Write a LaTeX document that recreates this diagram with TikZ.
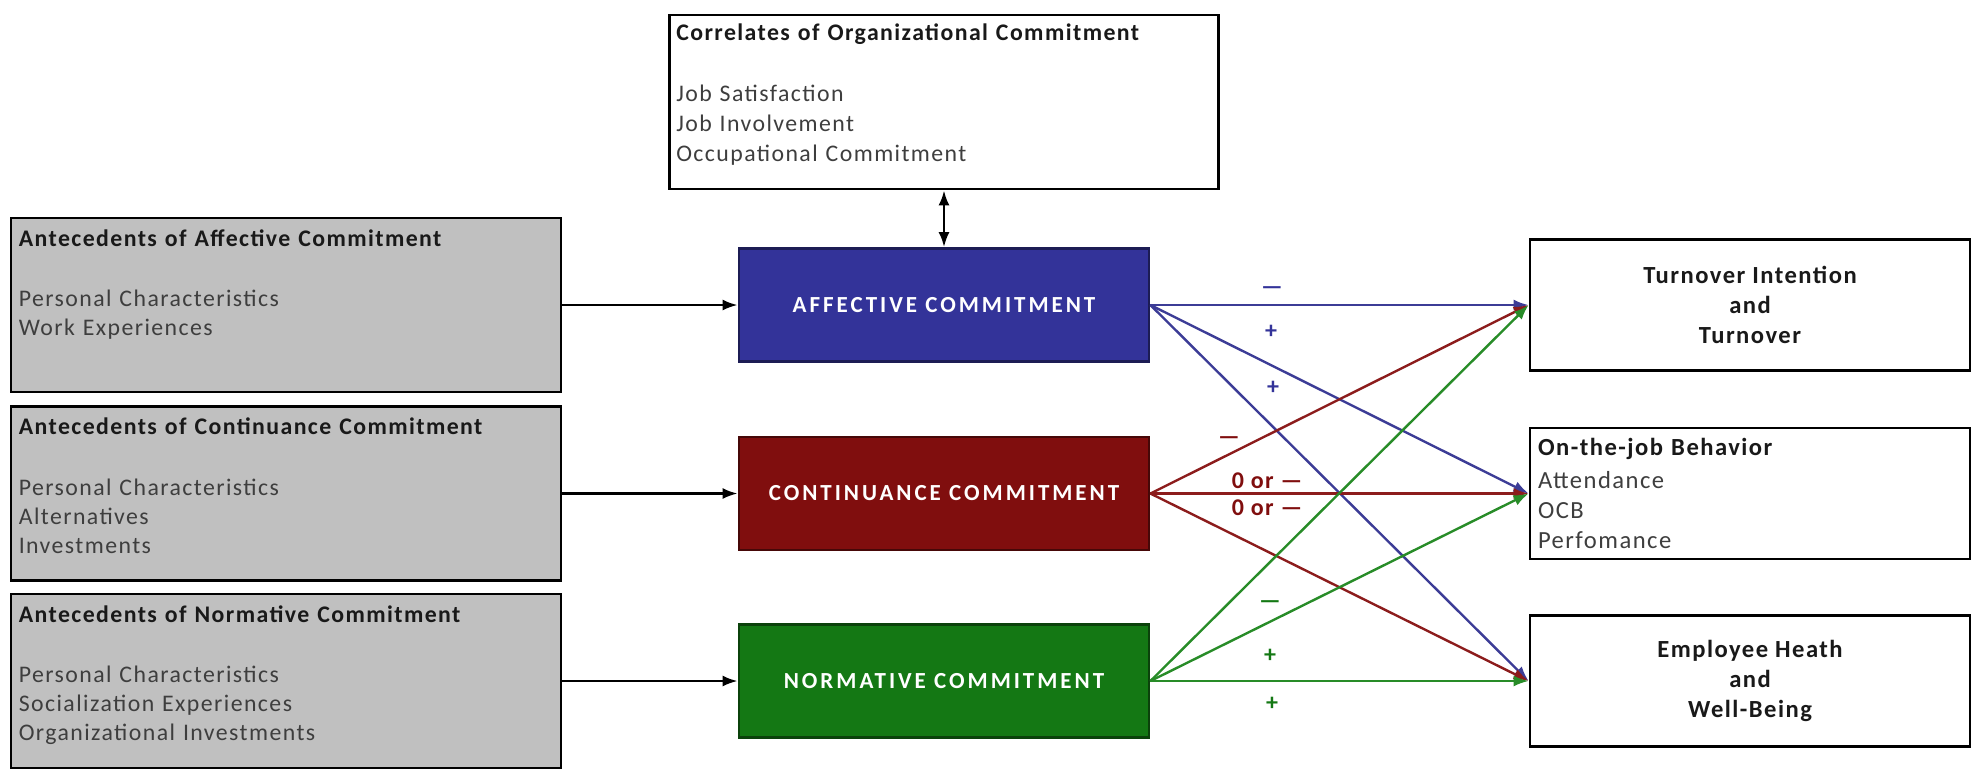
\documentclass[tikz,border=0pt]{standalone}
\usepackage{fontspec}
\setmainfont{Carlito}[LetterSpace=6]
\newfontfamily\capsfont{Carlito}[LetterSpace=13]
\usetikzlibrary{arrows.meta}
\definecolor{affblue}{RGB}{51,51,153}
\definecolor{conred}{RGB}{128,14,14}
\definecolor{normgreen}{RGB}{20,120,20}
\definecolor{affline}{RGB}{60,60,150}
\definecolor{conline}{RGB}{140,28,28}
\definecolor{normline}{RGB}{40,140,40}
\definecolor{antegray}{RGB}{192,192,192}
\definecolor{itemgray}{RGB}{62,62,62}
\definecolor{titlegray}{RGB}{25,25,25}
\newcommand{\boxtitle}[1]{{\bfseries\color{titlegray}#1}}

\begin{document}
\begin{tikzpicture}[x=0.5pt,y=-0.5pt,line width=1.2pt,>={Latex[length=7.5pt,width=5.5pt]},
  antebox/.style={draw,line width=1.4pt,fill=antegray,minimum width=275pt,minimum height=87pt,inner sep=0pt},
  antetext/.style={anchor=base west,inner sep=0pt,text width=262pt,align=left,text=itemgray,font=\fontsize{11.9}{14.4}\selectfont},
  commit/.style={draw=#1!55!black,line width=1.4pt,fill=#1,text=white,minimum width=205pt,minimum height=56.5pt,font=\capsfont\fontsize{11.5}{13}\selectfont\bfseries},
  outbox/.style={draw,line width=1.4pt,fill=white,minimum width=220pt,minimum height=65.5pt,align=center,text=titlegray,font=\fontsize{12.3}{15}\selectfont\bfseries},
  sign/.style={text=#1,inner sep=0pt,text height=1.5ex,text depth=.25ex,font=\fontsize{12}{14}\selectfont\bfseries}]
  \useasboundingbox (0,0) rectangle (1980,773);

  % correlates
  \node[draw,line width=1.4pt,minimum width=274.5pt,minimum height=87pt,inner sep=0pt] (cor) at (944,102) {};
  \node[antetext,font=\fontsize{11.9}{15}\selectfont] (cort) at ([shift={(7,27)}]cor.north west) {\boxtitle{Correlates of Organizational Commitment}\\[15.5pt] Job Satisfaction\\ Job Involvement\\ Occupational Commitment};

  % antecedents
  \node[antebox] (aa) at (286,305) {};
  \node[antetext] (aat) at ([shift={(8,29.5)}]aa.north west) {\boxtitle{Antecedents of Affective Commitment}\\[16pt] Personal Characteristics\\ Work Experiences};
  \node[antebox] (ca) at (286,493.5) {};
  \node[antetext] (cat) at ([shift={(8,29.5)}]ca.north west) {\boxtitle{Antecedents of Continuance Commitment}\\[16pt] Personal Characteristics\\ Alternatives\\ Investments};
  \node[antebox] (na) at (286,681) {};
  \node[antetext] (nat) at ([shift={(8,29.5)}]na.north west) {\boxtitle{Antecedents of Normative Commitment}\\[16pt] Personal Characteristics\\ Socialization Experiences\\ Organizational Investments};

  % the three components
  \node[commit=affblue] (ac) at (944,305) {AFFECTIVE COMMITMENT};
  \node[commit=conred] (cc) at (944,493.5) {CONTINUANCE COMMITMENT};
  \node[commit=normgreen] (nc) at (944,681) {NORMATIVE COMMITMENT};

  % outcomes
  \node[outbox] (to) at (1750,305) {Turnover Intention\\ and\\ Turnover};
  \node[outbox,align=left,text width=212pt,inner xsep=4pt] (ob) at (1750,493.5) {On-the-job Behavior\\[1.6pt] {\mdseries\color{itemgray}Attendance\\ OCB\\ Perfomance}};
  \node[outbox] (eh) at (1750,681) {Employee Heath\\ and\\ Well-Being};

  \draw[->] (aa) -- (ac);
  \draw[->] (ca) -- (cc);
  \draw[->] (na) -- (nc);
  \draw[<->] (cor) -- (ac);

  \draw[->,affline] (ac.east) -- (to.west);
  \draw[->,affline] (ac.east) -- (ob.west);
  \draw[->,affline] (ac.east) -- (eh.west);
  \draw[->,conline] (cc.east) -- (to.west);
  \draw[->,conline] (cc.east) -- (ob.west);
  \draw[->,conline] (cc.east) -- (eh.west);
  \draw[->,normline] (nc.east) -- (to.west);
  \draw[->,normline] (nc.east) -- (ob.west);
  \draw[->,normline] (nc.east) -- (eh.west);

  % signs
  \node[sign=affblue] (am) at (1272,289) {—};
  \node[sign=affblue] (ap1) at (1271,333) {+};
  \node[sign=affblue] (ap2) at (1273,389) {+};
  \node[sign=conred] (cm) at (1229,439) {—};
  \node[sign=conred] (co1) at (1267,483) {0 or —};
  \node[sign=conred] (co2) at (1267,510) {0 or —};
  \node[sign=normgreen] (nm) at (1270,603) {—};
  \node[sign=normgreen] (np1) at (1270,657) {+};
  \node[sign=normgreen] (np2) at (1272,705) {+};
\end{tikzpicture}
\end{document}
